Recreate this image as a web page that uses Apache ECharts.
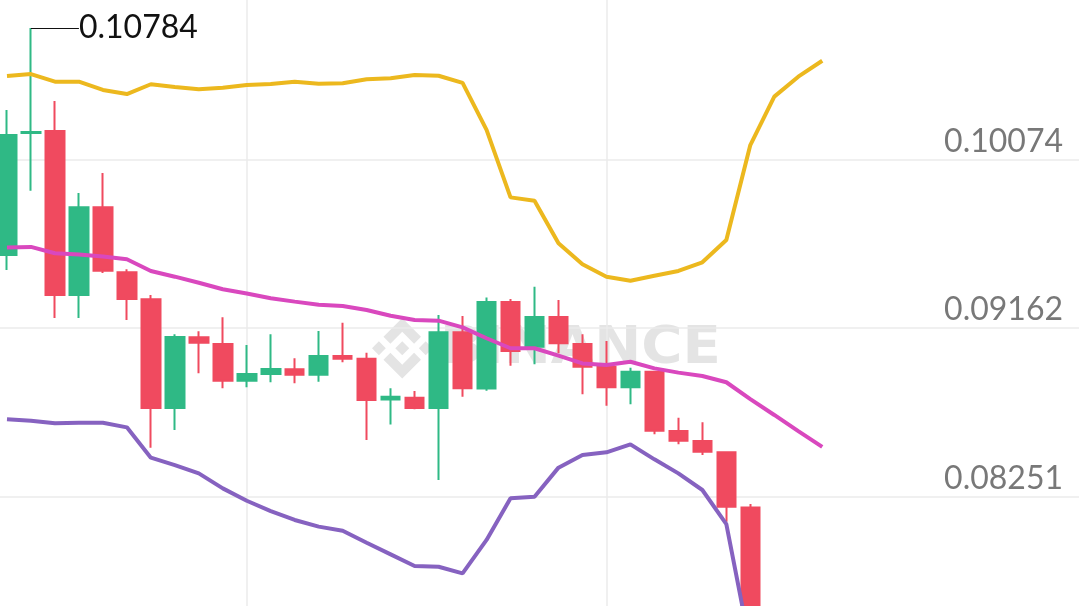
<!DOCTYPE html>
<html>
<head>
<meta charset="utf-8">
<script src="https://cdn.jsdelivr.net/npm/echarts@6/dist/echarts.min.js"></script>
<style>
html,body{margin:0;padding:0;background:#ffffff;}
#chart{width:1079px;height:606px;}
</style>
</head>
<body>
<div id="chart"></div>
<script>
// ---- data ----
const categories = Array.from({length: 46}, (_, i) => String(i + 1));

const opens  = [0.09556,0.10216,0.10227,0.09340,0.09814,0.09463,0.09317,0.08729,0.09111,0.09075,
                0.08876,0.08913,0.08938,0.08909,0.09010,0.08995,0.08775,0.08784,0.08729,0.09138,
                0.08834,0.09302,0.09060,0.09221,0.09075,0.08952,0.08841,0.08925,0.08604,0.08550,
                0.08489,0.08191];
const closes = [0.10205,0.10222,0.09340,0.09814,0.09471,0.09318,0.08729,0.09113,0.09082,0.08876,
                0.08913,0.08940,0.08909,0.09010,0.08995,0.08772,0.08790,0.08729,0.09138,0.08835,
                0.09302,0.09037,0.09221,0.09079,0.08952,0.08841,0.08925,0.08606,0.08552,0.08492,
                0.08195,0.07365];
const lows   = [0.09475,0.09904,0.09216,0.09216,0.09459,0.09205,0.08514,0.08610,0.08916,0.08835,
                0.08841,0.08868,0.08862,0.08871,0.08976,0.08556,0.08640,0.08722,0.08339,0.08790,
                0.08822,0.08957,0.08965,0.09025,0.08803,0.08741,0.08749,0.08586,0.08532,0.08474,
                0.08114,0.07257];
const highs  = [0.10341,0.10784,0.10389,0.09892,0.10000,0.09479,0.09340,0.09127,0.09144,0.09219,
                0.09069,0.09127,0.08998,0.09145,0.09190,0.09028,0.08835,0.08821,0.09232,0.09226,
                0.09327,0.09318,0.09385,0.09313,0.09127,0.09091,0.08947,0.08930,0.08676,0.08651,
                0.08489,0.08209];

const upperBand  = [0.10525,0.10535,0.10494,0.10494,0.10449,0.10427,0.10480,0.10465,0.10453,0.10461,
                    0.10476,0.10481,0.10494,0.10483,0.10485,0.10507,0.10512,0.10530,0.10526,0.10487,
                    0.10233,0.09868,0.09850,0.09620,0.09506,0.09439,0.09417,0.09444,0.09470,0.09517,
                    0.09637,0.10151,0.10413,0.10521,0.10607];
const middleBand = [0.09597,0.09600,0.09566,0.09559,0.09548,0.09533,0.09470,0.09439,0.09406,0.09371,
                    0.09348,0.09322,0.09304,0.09287,0.09280,0.09259,0.09228,0.09205,0.09201,0.09165,
                    0.09106,0.09052,0.09052,0.09012,0.08970,0.08961,0.08979,0.08943,0.08920,0.08902,
                    0.08868,0.08777,0.08691,0.08604,0.08518];
const lowerBand  = [0.08668,0.08660,0.08646,0.08649,0.08649,0.08624,0.08460,0.08420,0.08375,0.08294,
                    0.08227,0.08171,0.08123,0.08087,0.08065,0.08000,0.07937,0.07874,0.07870,0.07834,
                    0.08015,0.08240,0.08249,0.08406,0.08474,0.08489,0.08532,0.08451,0.08375,0.08285,
                    0.08101,0.07436,0.07150,0.06980,0.06900];

const yTickValues = [0.08251, 0.09162, 0.10074];
const yTickLabels = ['0.08251', '0.09162', '0.10074'];
const xGridCategories = [10, 25];

const yMin = 0.076576;
const yMax = 0.109357;

// ---- build ----
const candleData = opens.map((o, i) => [o, closes[i], lows[i], highs[i]]);
let maxIdx = 0;
highs.forEach((h, i) => { if (h > highs[maxIdx]) maxIdx = i; });
const maxHigh = highs[maxIdx];

const UP = '#2fb985', DOWN = '#f04a5f';
const WM = '#e4e4e4';
// watermark logo pieces (logo units 0..126.6)
const logoPieces = [
  [[38.171,53.203],[62.759,28.616],[87.36,53.216],[101.667,38.909],[62.759,0],[23.864,38.896]],
  [[0,62.759],[14.307,48.45],[28.614,62.757],[14.307,77.064]],
  [[38.171,72.315],[62.759,96.902],[87.359,72.303],[101.674,86.602],[62.759,125.51],[23.863,86.615]],
  [[97.193,62.765],[111.5,48.458],[125.807,62.765],[111.5,77.072]],
  [[77.271,62.751],[62.759,48.233],[48.256,62.735],[62.759,77.259]]
];

const chart = echarts.init(document.getElementById('chart'), null, {renderer: 'canvas'});
const lineCommon = {type: 'line', showSymbol: false, symbol: 'none', clip: true, silent: true, z: 3};

chart.setOption({
  animation: false,
  backgroundColor: '#ffffff',
  graphic: [
    {type: 'group', x: 372, y: 318, scaleX: 61 / 126.6, scaleY: 61 / 126.6, z: 0, silent: true,
     children: logoPieces.map(p => ({type: 'polygon', shape: {points: p}, style: {fill: WM}}))},
    {type: 'text', z: 0, silent: true, x: 440, y: 349, scaleX: 1.08,
     style: {text: 'BINANCE', font: 'bold 52px "DejaVu Sans"', fill: WM,
             align: 'left', verticalAlign: 'middle'}}
  ],
  grid: {left: -5, right: -19, top: 0, bottom: 0, outerBoundsMode: 'none', containLabel: false},
  xAxis: {
    type: 'category', data: categories, boundaryGap: true,
    axisLine: {show: false}, axisTick: {show: false}, axisLabel: {show: false},
    splitLine: {show: false}
  },
  yAxis: {
    type: 'value', position: 'right', min: yMin, max: yMax,
    axisLine: {show: false}, axisTick: {show: false}, splitLine: {show: false},
    axisLabel: {
      inside: true, margin: 35, customValues: yTickValues,
      formatter: v => { const k = yTickValues.indexOf(v); return k >= 0 ? yTickLabels[k] : ''; },
      fontFamily: 'Lato', fontSize: 32, color: '#787878',
      verticalAlign: 'bottom', align: 'right', padding: [0, 0, 2, 0]
    }
  },
  series: [
    {
      type: 'line', data: [], silent: true, z: 1,
      markLine: {
        silent: true, z: 1, precision: 6, symbol: ['none', 'none'], animation: false,
        label: {show: false},
        lineStyle: {color: '#ebebeb', width: 1.5, type: 'solid'},
        data: yTickValues.map(v => ({yAxis: v})).concat(xGridCategories.map(c => ({xAxis: c})))
      }
    },
    {
      type: 'candlestick', data: candleData, barWidth: 19, clip: true, silent: true, z: 2,
      itemStyle: {color: UP, color0: DOWN, borderColor: UP, borderColor0: DOWN, borderWidth: 2},
      markLine: {
        silent: true, z: 5, precision: 6, symbol: ['none', 'none'], animation: false,
        lineStyle: {color: '#111111', width: 1, type: 'solid'},
        label: {show: true, position: 'end', distance: 0, formatter: maxHigh.toFixed(5),
                fontFamily: 'Lato', fontSize: 32, color: '#111111'},
        data: [[{coord: [maxIdx, maxHigh]}, {coord: [maxIdx + 2, maxHigh]}]]
      }
    },
    Object.assign({}, lineCommon, {data: upperBand, lineStyle: {color: '#ecb81e', width: 4}}),
    Object.assign({}, lineCommon, {data: middleBand, lineStyle: {color: '#d948be', width: 4}}),
    Object.assign({}, lineCommon, {data: lowerBand, lineStyle: {color: '#8662c0', width: 4}})
  ]
});
</script>
</body>
</html>
